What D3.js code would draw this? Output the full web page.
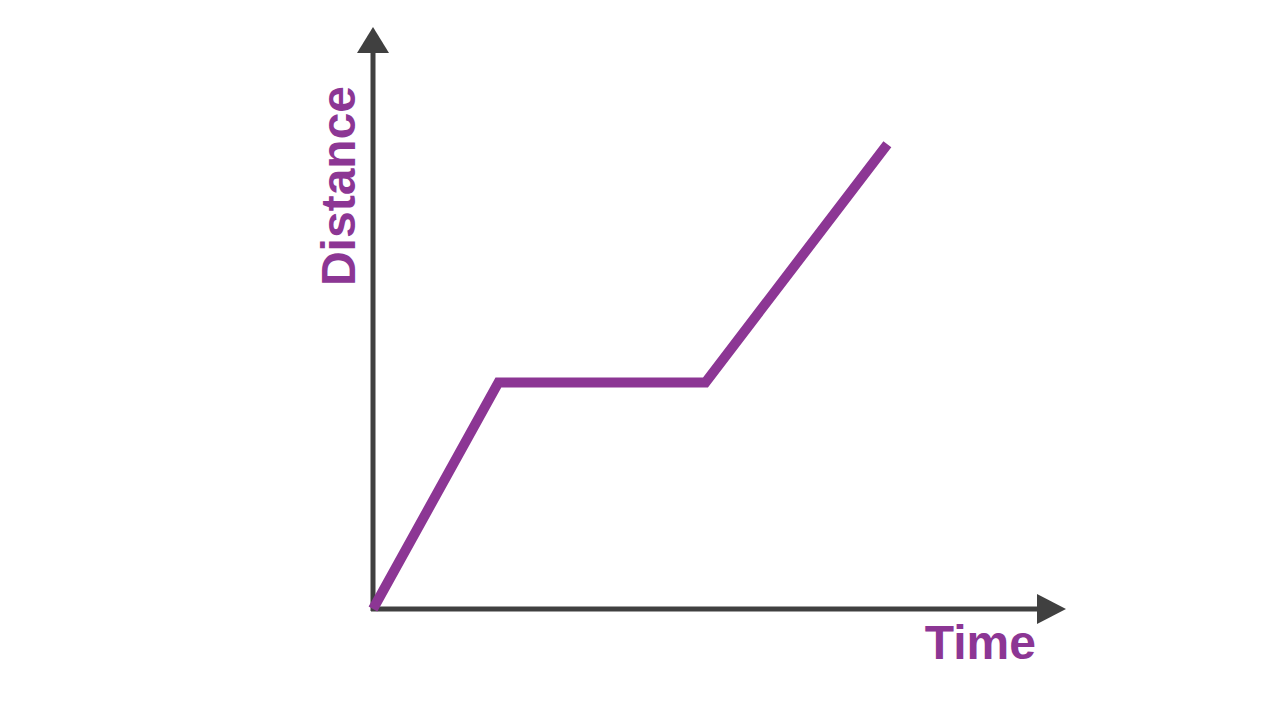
<!DOCTYPE html>
<html>
<head>
<meta charset="utf-8">
<script src="https://cdn.jsdelivr.net/npm/d3@7"></script>
<style>
  html, body { margin: 0; padding: 0; background: #fff; }
  svg { display: block; }
</style>
</head>
<body>
<svg id="chart" width="1280" height="720"></svg>
<script>
// Distance-time journey: move, stop, move faster
const time = [0, 2, 5.3, 8.2]
const distance = [0, 3.9, 3.9, 8.0]
const axisLabels = ['Time', 'Distance']

const purple = '#8c3694'
const axisColor = '#404040'

const svg = d3.select('#chart')

const x = d3.scaleLinear().domain([0, 11]).range([373, 1063])
const y = d3.scaleLinear().domain([0, 10]).range([609, 28])

// ── axes with arrow heads ──
const x0 = x(0), y0 = y(0)
const xEnd = x.range()[1], yEnd = y.range()[1]

svg.append('line')
  .attr('x1', x0 - 2).attr('y1', y0)
  .attr('x2', xEnd - 26).attr('y2', y0)
  .attr('stroke', axisColor).attr('stroke-width', 5)

svg.append('line')
  .attr('x1', x0).attr('y1', y0 + 2)
  .attr('x2', x0).attr('y2', yEnd + 24)
  .attr('stroke', axisColor).attr('stroke-width', 5)

svg.append('path')
  .attr('d', `M${xEnd + 3},${y0} L${xEnd - 26},${y0 - 15} L${xEnd - 26},${y0 + 15} Z`)
  .attr('fill', axisColor)

svg.append('path')
  .attr('d', `M${x0},${yEnd - 1} L${x0 - 16},${yEnd + 25} L${x0 + 16},${yEnd + 25} Z`)
  .attr('fill', axisColor)

// ── journey line ──
const pts = time.map((t, i) => [t, distance[i]])
const line = d3.line().x(d => x(d[0])).y(d => y(d[1]))

svg.append('path')
  .datum(pts)
  .attr('d', line)
  .attr('fill', 'none')
  .attr('stroke', purple)
  .attr('stroke-width', 10)
  .attr('stroke-linejoin', 'miter')
  .attr('stroke-linecap', 'butt')

// ── labels ──
svg.append('text')
  .attr('x', 1036).attr('y', 659)
  .attr('text-anchor', 'end')
  .attr('font-family', '"Liberation Sans", Arial, sans-serif')
  .attr('font-weight', 'bold')
  .attr('font-size', 48)
  .attr('fill', purple)
  .text(axisLabels[0])

svg.append('text')
  .attr('transform', 'translate(355,186) rotate(-90)')
  .attr('text-anchor', 'middle')
  .attr('font-family', '"Liberation Sans", Arial, sans-serif')
  .attr('font-weight', 'bold')
  .attr('font-size', 48)
  .attr('fill', purple)
  .text(axisLabels[1])
</script>
</body>
</html>
